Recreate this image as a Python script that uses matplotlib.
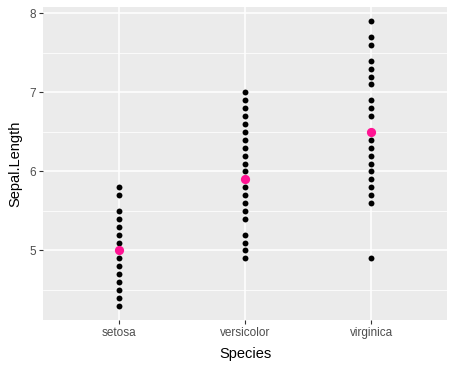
import matplotlib.pyplot as plt
from matplotlib.ticker import MultipleLocator

plt.rcParams['font.family'] = ['Liberation Sans', 'DejaVu Sans']

species = ["setosa", "versicolor", "virginica"]
setosa = [4.3, 4.4, 4.5, 4.6, 4.7, 4.8, 4.9, 5.0, 5.1, 5.2, 5.3, 5.4, 5.5, 5.7, 5.8]
versicolor = [4.9, 5.0, 5.1, 5.2, 5.4, 5.5, 5.6, 5.7, 5.8, 5.9, 6.0, 6.1, 6.2,
              6.3, 6.4, 6.5, 6.6, 6.7, 6.8, 6.9, 7.0]
virginica = [4.9, 5.6, 5.7, 5.8, 5.9, 6.0, 6.1, 6.2, 6.3, 6.4, 6.5, 6.7, 6.8,
             6.9, 7.1, 7.2, 7.3, 7.4, 7.6, 7.7, 7.9]
medians = [5.0, 5.9, 6.5]

fig = plt.figure(figsize=(4.56, 3.68), dpi=100)
ax = fig.add_axes([43 / 456, 1 - 320 / 368, 404 / 456, 313 / 368])
ax.set_facecolor('#EBEBEB')

for i, vals in enumerate([setosa, versicolor, virginica]):
    ax.scatter([i + 1] * len(vals), vals, s=18, color='black', linewidths=0, zorder=3)
ax.scatter(range(1, 4), medians, s=44, color='#FF1493', linewidths=0, zorder=4)

ax.set_xlim(0.4, 3.6)
ax.set_ylim(4.12, 8.08)
ax.set_xticks(range(1, 4))
ax.set_xticklabels(species)
ax.yaxis.set_major_locator(MultipleLocator(1))
ax.yaxis.set_minor_locator(MultipleLocator(0.5))
ax.grid(which='major', color='white', linewidth=1.1)
ax.grid(which='minor', axis='y', color='white', linewidth=0.55)
ax.set_axisbelow(True)
for s in ax.spines.values():
    s.set_visible(False)
ax.tick_params(which='major', length=3, color='#333333', labelcolor='#4D4D4D',
               labelsize=8.5, pad=2)
ax.tick_params(which='minor', length=0)

ax.set_xlabel("Species", fontsize=10.5, labelpad=6)
ax.set_ylabel("Sepal.Length", fontsize=10.5, labelpad=5)

fig.savefig("out.png", dpi=100)
